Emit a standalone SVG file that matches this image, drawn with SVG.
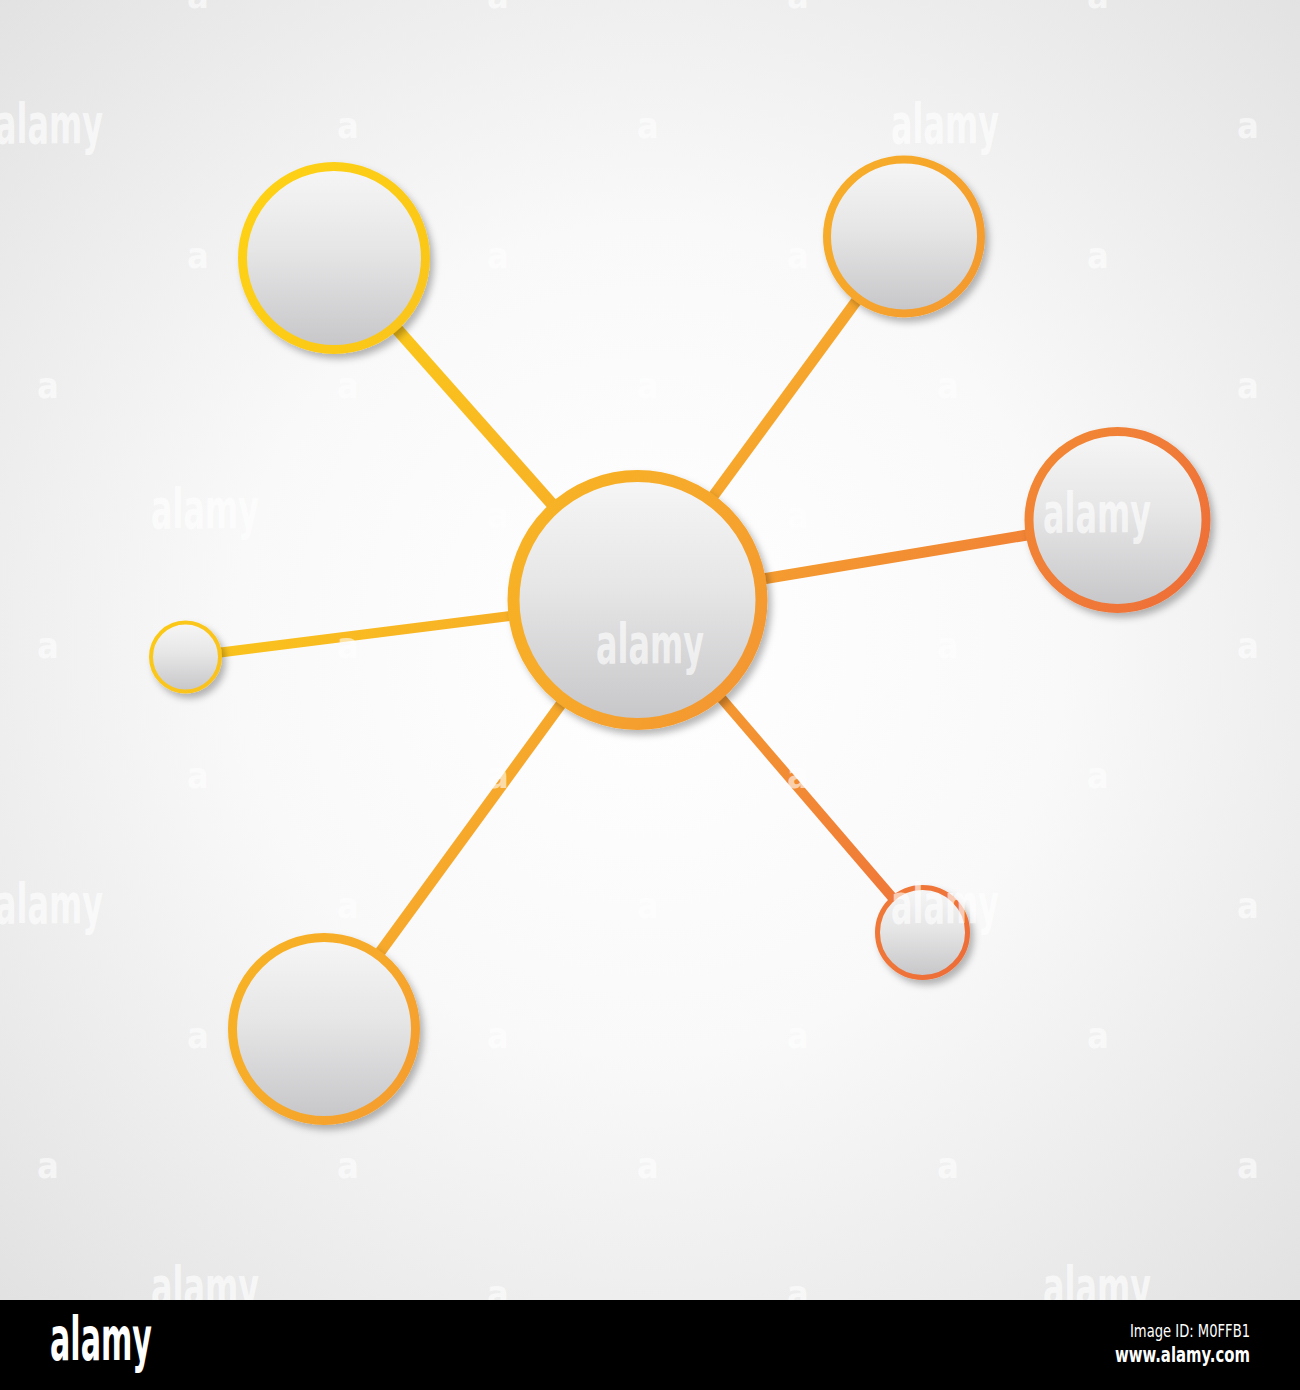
<svg xmlns="http://www.w3.org/2000/svg" width="1300" height="1390" viewBox="0 0 1300 1390">
<defs>
  <radialGradient id="bg" cx="650" cy="640" r="920" gradientUnits="userSpaceOnUse">
    <stop offset="0" stop-color="#ffffff"/>
    <stop offset="0.45" stop-color="#f9f9f9"/>
    <stop offset="1" stop-color="#e2e2e2"/>
  </radialGradient>
  <linearGradient id="ring" x1="150" y1="200" x2="1200" y2="900" gradientUnits="userSpaceOnUse">
    <stop offset="0" stop-color="#ffd60f"/>
    <stop offset="0.2" stop-color="#fbc819"/>
    <stop offset="0.5" stop-color="#f6a72c"/>
    <stop offset="0.78" stop-color="#f07b38"/>
    <stop offset="1" stop-color="#ea5a3a"/>
  </linearGradient>
  <linearGradient id="face" x1="0" y1="0" x2="0" y2="1">
    <stop offset="0" stop-color="#f6f6f6"/>
    <stop offset="0.45" stop-color="#e6e6e7"/>
    <stop offset="1" stop-color="#c6c6c8"/>
  </linearGradient>
  <filter id="shadow" x="-20%" y="-20%" width="150%" height="150%">
    <feDropShadow dx="4" dy="5" stdDeviation="3.5" flood-color="#000" flood-opacity="0.28"/>
  </filter>
  <clipPath id="photo"><rect x="0" y="0" width="1300" height="1300"/></clipPath>
</defs>
<style>
  .link { stroke: url(#ring); stroke-linecap: butt; fill: none; }
  .node { fill: url(#face); stroke: url(#ring); filter: url(#shadow); }
  .wm { font-family: "Liberation Sans Narrow", "DejaVu Sans Condensed", "Liberation Sans", sans-serif; font-weight: bold; fill: #ffffff; text-anchor: middle; }
  .wmw { font-size: 55px; fill-opacity: 0.65; }
  .wma { font-size: 36px; fill-opacity: 0.6; }
  .bar { font-family: "Liberation Sans Narrow", "DejaVu Sans Condensed", "Liberation Sans", sans-serif; fill: #ffffff; }
</style>
<rect x="0" y="0" width="1300" height="1300" fill="url(#bg)"/>

<g id="connectors">
  <line class="link" x1="637" y1="600" x2="334" y2="258" stroke-width="12"/>
  <line class="link" x1="637" y1="600" x2="904" y2="236" stroke-width="11"/>
  <line class="link" x1="637" y1="600" x2="1117" y2="520" stroke-width="11"/>
  <line class="link" x1="637" y1="600" x2="185" y2="657" stroke-width="10"/>
  <line class="link" x1="637" y1="600" x2="324" y2="1029" stroke-width="11"/>
  <line class="link" x1="637" y1="600" x2="922" y2="932" stroke-width="10"/>
</g>

<g id="node-center"><circle class="node" cx="637.5" cy="600" r="124" stroke-width="12"/></g>
<g id="node-top-left"><circle class="node" cx="334" cy="258" r="91.5" stroke-width="9"/></g>
<g id="node-top-right"><circle class="node" cx="904" cy="236.5" r="77" stroke-width="8"/></g>
<g id="node-right"><circle class="node" cx="1117.5" cy="520" r="88.5" stroke-width="9"/></g>
<g id="node-left"><circle class="node" cx="185.5" cy="657" r="34.5" stroke-width="4"/></g>
<g id="node-bottom-left"><circle class="node" cx="324" cy="1029" r="91.5" stroke-width="9"/></g>
<g id="node-bottom-right"><circle class="node" cx="922.5" cy="932.5" r="45" stroke-width="5"/></g>

<g id="watermarks" clip-path="url(#photo)">
  <text class="wm wmw" x="49" y="143" textLength="108" lengthAdjust="spacingAndGlyphs">alamy</text>
  <text class="wm wmw" x="945" y="143" textLength="108" lengthAdjust="spacingAndGlyphs">alamy</text>
  <text class="wm wmw" x="205" y="528" textLength="108" lengthAdjust="spacingAndGlyphs">alamy</text>
  <text class="wm wmw" x="1097" y="532" textLength="108" lengthAdjust="spacingAndGlyphs">alamy</text>
  <text class="wm wmw" x="650" y="663" textLength="108" lengthAdjust="spacingAndGlyphs">alamy</text>
  <text class="wm wmw" x="49" y="923" textLength="108" lengthAdjust="spacingAndGlyphs">alamy</text>
  <text class="wm wmw" x="945" y="923" textLength="108" lengthAdjust="spacingAndGlyphs">alamy</text>
  <text class="wm wmw" x="205" y="1306" textLength="108" lengthAdjust="spacingAndGlyphs">alamy</text>
  <text class="wm wmw" x="1097" y="1306" textLength="108" lengthAdjust="spacingAndGlyphs">alamy</text>
  <text class="wm wma" x="198" y="8">a</text>
  <text class="wm wma" x="498" y="8">a</text>
  <text class="wm wma" x="798" y="8">a</text>
  <text class="wm wma" x="1098" y="8">a</text>
  <text class="wm wma" x="348" y="138">a</text>
  <text class="wm wma" x="648" y="138">a</text>
  <text class="wm wma" x="1248" y="138">a</text>
  <text class="wm wma" x="198" y="268">a</text>
  <text class="wm wma" x="498" y="268">a</text>
  <text class="wm wma" x="798" y="268">a</text>
  <text class="wm wma" x="1098" y="268">a</text>
  <text class="wm wma" x="48" y="398">a</text>
  <text class="wm wma" x="348" y="398">a</text>
  <text class="wm wma" x="648" y="398">a</text>
  <text class="wm wma" x="948" y="398">a</text>
  <text class="wm wma" x="1248" y="398">a</text>
  <text class="wm wma" x="498" y="528">a</text>
  <text class="wm wma" x="798" y="528">a</text>
  <text class="wm wma" x="48" y="658">a</text>
  <text class="wm wma" x="348" y="658">a</text>
  <text class="wm wma" x="948" y="658">a</text>
  <text class="wm wma" x="1248" y="658">a</text>
  <text class="wm wma" x="198" y="788">a</text>
  <text class="wm wma" x="498" y="788">a</text>
  <text class="wm wma" x="798" y="788">a</text>
  <text class="wm wma" x="1098" y="788">a</text>
  <text class="wm wma" x="348" y="918">a</text>
  <text class="wm wma" x="648" y="918">a</text>
  <text class="wm wma" x="1248" y="918">a</text>
  <text class="wm wma" x="198" y="1048">a</text>
  <text class="wm wma" x="498" y="1048">a</text>
  <text class="wm wma" x="798" y="1048">a</text>
  <text class="wm wma" x="1098" y="1048">a</text>
  <text class="wm wma" x="48" y="1178">a</text>
  <text class="wm wma" x="348" y="1178">a</text>
  <text class="wm wma" x="648" y="1178">a</text>
  <text class="wm wma" x="948" y="1178">a</text>
  <text class="wm wma" x="1248" y="1178">a</text>
  <text class="wm wma" x="498" y="1306">a</text>
  <text class="wm wma" x="798" y="1306">a</text>
</g>

<g id="footer">
  <rect x="0" y="1300" width="1300" height="90" fill="#000000"/>
  <text class="bar" x="50" y="1360" font-size="60" font-weight="bold" textLength="102" lengthAdjust="spacingAndGlyphs">alamy</text>
  <text class="bar" x="1250" y="1337" font-size="18" text-anchor="end" textLength="120" lengthAdjust="spacingAndGlyphs">Image ID: M0FFB1</text>
  <text class="bar" x="1250" y="1362" font-size="22" font-weight="bold" text-anchor="end" textLength="135" lengthAdjust="spacingAndGlyphs">www.alamy.com</text>
</g>
</svg>
